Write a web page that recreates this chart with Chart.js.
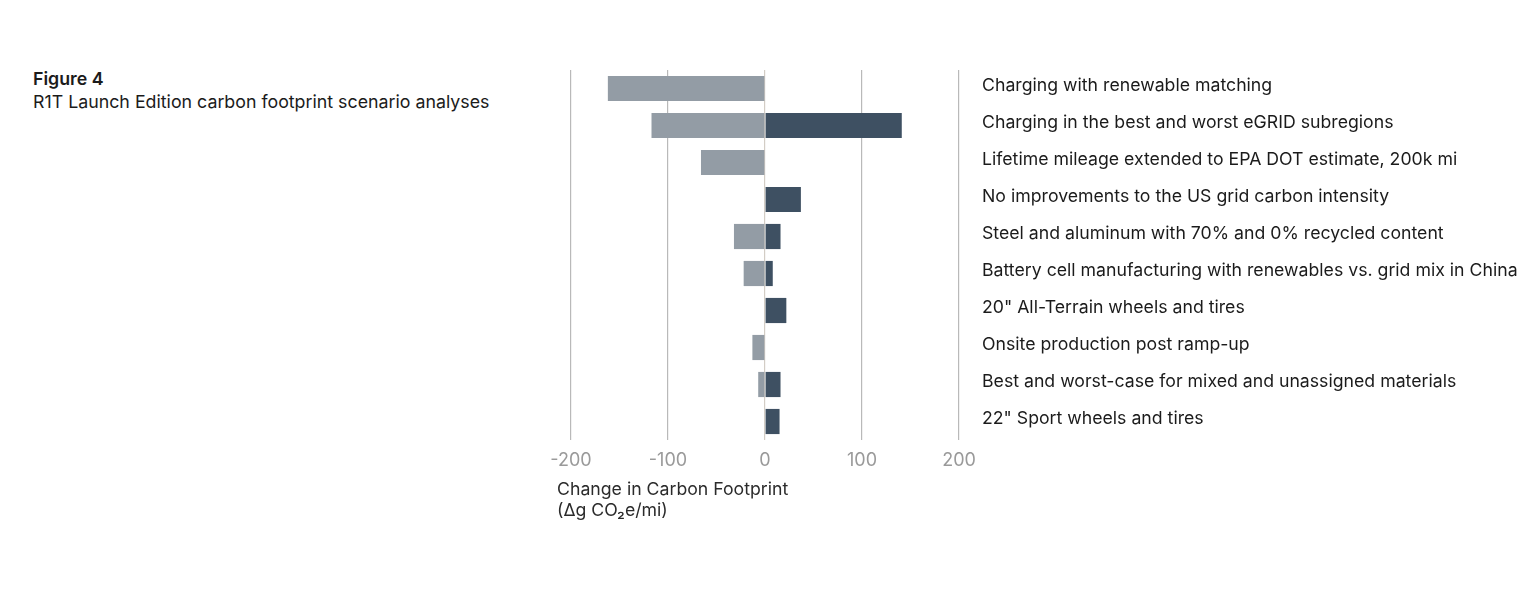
<!DOCTYPE html>
<html>
<head>
<meta charset="utf-8">
<script src="https://cdn.jsdelivr.net/npm/chart.js@4"></script>
<style>
  html, body { margin: 0; padding: 0; background: #ffffff; }
  body { width: 1536px; height: 611px; position: relative; overflow: hidden; font-family: Inter, "Liberation Sans", sans-serif; }
  #wrap { position: absolute; left: 0; top: 0; width: 1536px; height: 611px; }
  .fig { position: absolute; left: 33px; top: 67px; font-size: 17.8px; line-height: 23px; color: #1b1b1b; }
  .fig b { font-weight: 600; }
  .axis-title { position: absolute; left: 557px; top: 478px; font-size: 17.7px; line-height: 21px; color: #2b2b2b; }
</style>
</head>
<body>
<div class="fig"><b>Figure 4</b><br>R1T Launch Edition carbon footprint scenario analyses</div>
<div id="wrap"><canvas id="chart"></canvas></div>
<div class="axis-title">Change in Carbon Footprint<br>(Δg CO₂e/mi)</div>
<script>
// Сценарии (сверху вниз)
const scenarios = [
  "Charging with renewable matching",
  "Charging in the best and worst eGRID subregions",
  "Lifetime mileage extended to EPA DOT estimate, 200k mi",
  "No improvements to the US grid carbon intensity",
  "Steel and aluminum with 70% and 0% recycled content",
  "Battery cell manufacturing with renewables vs. grid mix in China",
  "20\" All-Terrain wheels and tires",
  "Onsite production post ramp-up",
  "Best and worst-case for mixed and unassigned materials",
  "22\" Sport wheels and tires"
];
// Снижение (светлые столбцы) и рост (тёмные столбцы), Δg CO2e/mi
const decrease = [-162, -117, -66, 0, -32, -22, 0, -13, -7, 0];
const increase = [0, 141, 0, 37, 16, 8, 22, 0, 16, 15];
const xTicks = [-200, -100, 0, 100, 200];

const lightColor = "#939ca5";
const darkColor = "#3e5062";

const canvas = document.getElementById("chart");
new Chart(canvas.getContext("2d"), {
  type: "bar",
  data: {
    labels: scenarios,
    datasets: [
      { label: "Decrease", data: decrease, backgroundColor: lightColor, barPercentage: 0.68, categoryPercentage: 1 },
      { label: "Increase", data: increase, backgroundColor: darkColor, barPercentage: 0.68, categoryPercentage: 1 }
    ]
  },
  options: {
    indexAxis: "y",
    responsive: true,
    maintainAspectRatio: false,
    animation: false,
    layout: { padding: { left: 571, top: 70, right: 0, bottom: 0 } },
    plugins: {
      legend: { display: false },
      tooltip: { enabled: false }
    },
    scales: {
      x: {
        stacked: true,
        min: -200,
        max: 200,
        afterBuildTicks: function (scale) {
          scale.ticks = xTicks.map((v) => ({ value: v }));
        },
        afterFit: function (scale) { scale.height = 171; },
        grid: {
          drawTicks: false,
          lineWidth: 1.2,
          color: function (ctx) {
            return ctx.tick && ctx.tick.value === 0 ? "#d3cdc5" : "#b9b9b9";
          }
        },
        border: { display: false },
        ticks: {
          padding: 10,
          color: "#9a9a9a",
          font: { family: "Inter", size: 18 }
        }
      },
      y: {
        stacked: true,
        position: "right",
        afterFit: function (scale) { scale.width = 577; },
        grid: { display: false, drawTicks: false },
        border: { display: false },
        ticks: {
          autoSkip: false,
          padding: 23,
          labelOffset: -3,
          color: "#1b1b1b",
          font: { family: "Inter", size: 17.7 }
        }
      }
    }
  }
});
</script>
</body>
</html>
